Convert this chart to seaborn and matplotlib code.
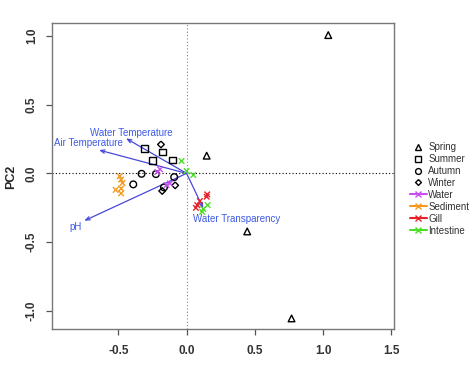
import matplotlib
matplotlib.use("Agg")
import matplotlib.pyplot as plt
from matplotlib.lines import Line2D
from matplotlib.legend_handler import HandlerLine2D
import numpy as np
import seaborn as sns
import pandas as pd

# season scores (open black symbols)
seasons = ["Spring", "Summer", "Autumn", "Winter"]
diamond = [(0, 1), (1, 0), (0, -1), (-1, 0), (0, 1)]
season_markers = ["^", "s", "o", diamond]
spring_x = [1.038, 0.147, 0.444, 0.769]
spring_y = [1.008, 0.129, -0.423, -1.057]
summer_x = [-0.311, -0.179, -0.249, -0.103]
summer_y = [0.182, 0.157, 0.095, 0.097]
autumn_x = [-0.330, -0.391, -0.225, -0.091, -0.166]
autumn_y = [-0.003, -0.080, -0.005, -0.027, -0.102]
winter_x = [-0.188, -0.084, -0.179]
winter_y = [0.211, -0.087, -0.128]

# sample type scores (x markers)
types = ["Water", "Sediment", "Gill", "Intestine"]
type_colors = ["#c84ff0", "#f59a1e", "#e8202a", "#4ddc2a"]
water_x = [-0.215, -0.195, -0.147, -0.122]
water_y = [0.010, 0.030, -0.085, -0.073]
sediment_x = [-0.49, -0.48, -0.47, -0.52, -0.48, -0.48]
sediment_y = [-0.02, -0.045, -0.07, -0.12, -0.11, -0.145]
gill_x = [0.151, 0.147, 0.097, 0.078, 0.068]
gill_y = [-0.153, -0.170, -0.202, -0.231, -0.251]
intestine_x = [-0.037, 0.000, 0.049, 0.154, 0.122, 0.114]
intestine_y = [0.090, 0.017, -0.012, -0.231, -0.260, -0.280]

# environmental vectors
env_names = ["Water Temperature", "Air Temperature", "pH", "Water Transparency"]
env_x = [-0.444, -0.642, -0.750, 0.122]
env_y = [0.255, 0.170, -0.345, -0.255]
env_label_x = [-0.405, -0.720, -0.810, 0.366]
env_label_y = [0.296, 0.219, -0.389, -0.330]

x_ticks = [-0.5, 0.0, 0.5, 1.0, 1.5]
y_ticks = [-1.0, -0.5, 0.0, 0.5, 1.0]

season_df = pd.concat([
    pd.DataFrame({"x": spring_x, "y": spring_y, "season": "Spring"}),
    pd.DataFrame({"x": summer_x, "y": summer_y, "season": "Summer"}),
    pd.DataFrame({"x": autumn_x, "y": autumn_y, "season": "Autumn"}),
    pd.DataFrame({"x": winter_x, "y": winter_y, "season": "Winter"}),
], ignore_index=True)

type_df = pd.concat([
    pd.DataFrame({"x": water_x, "y": water_y, "type": "Water"}),
    pd.DataFrame({"x": sediment_x, "y": sediment_y, "type": "Sediment"}),
    pd.DataFrame({"x": gill_x, "y": gill_y, "type": "Gill"}),
    pd.DataFrame({"x": intestine_x, "y": intestine_y, "type": "Intestine"}),
], ignore_index=True)


class LeftMarkerHandler(HandlerLine2D):
    # legend handle: line across, single marker at the left end
    def get_xdata(self, legend, xdescent, ydescent, width, height, fontsize):
        xdata, _ = super().get_xdata(legend, xdescent, ydescent, width, height, fontsize)
        return xdata, np.array([xdata[0] + 0.1 * fontsize])


sns.set_style("white")
plt.rcParams["font.family"] = ["Liberation Sans", "DejaVu Sans"]

fig = plt.figure(figsize=(4.74, 3.66), dpi=100)
ax = fig.add_axes([0.109, 0.100, 0.722, 0.836])

ax.axhline(0, color="black", lw=0.8, ls=(0, (1, 2)), zorder=1)
ax.axvline(0, color="#888888", lw=0.8, ls=(0, (1, 2)), zorder=1)

sns.scatterplot(data=season_df, x="x", y="y", style="season",
                markers=dict(zip(seasons, season_markers)), s=23,
                color="black", linewidth=1.0, legend=False, ax=ax, zorder=3)
pts = ax.collections[-1]
pts.set_facecolor("none")
pts.set_edgecolor("black")

sns.scatterplot(data=type_df, x="x", y="y", hue="type",
                palette=dict(zip(types, type_colors)), marker="x", s=16,
                linewidth=1.0, legend=False, ax=ax, zorder=4)

arrow_col = "#4848dc"
for name, ex, ey, lx, ly in zip(env_names, env_x, env_y, env_label_x, env_label_y):
    ax.annotate("", xy=(ex, ey), xytext=(0, 0),
                arrowprops=dict(arrowstyle="->,head_length=0.3,head_width=0.12",
                                color=arrow_col, lw=0.9, shrinkA=0, shrinkB=0),
                zorder=2)
    ax.text(lx, ly, name, color="#3e5ae6", fontsize=7, ha="center", va="center")

ax.set_xlim(-0.989, 1.519)
ax.set_ylim(-1.137, 1.093)
ax.set_xticks(x_ticks)
ax.set_yticks(y_ticks)
ax.set_xticklabels([f"{v:.1f}" for v in x_ticks], fontweight="bold")
ax.set_yticklabels([f"{v:.1f}" for v in y_ticks], rotation=90, va="center",
                   fontweight="bold")
ax.tick_params(axis="both", direction="out", length=4, width=0.9, color="#555555",
               labelsize=8.5, labelcolor="#333333", left=True, bottom=True)
ax.tick_params(axis="x", pad=7)
ax.tick_params(axis="y", pad=6)
for sp in ax.spines.values():
    sp.set_color("#777777")
    sp.set_linewidth(1.0)
ax.set_xlabel("")
ax.set_ylabel("PC2", fontsize=9, fontweight="bold", labelpad=6)

handles = []
for m in season_markers:
    handles.append(Line2D([], [], ls="none", marker=m, markersize=4.2,
                          mfc="none", mec="black", mew=1.0))
for c in type_colors:
    handles.append(Line2D([], [], color=c, lw=1.5, marker="x", markersize=4,
                          mec=c, mew=1.0))
labels = seasons + types
leg = ax.legend(handles, labels, loc="center left", bbox_to_anchor=(0.846, 0.484),
                bbox_transform=fig.transFigure, frameon=False, fontsize=7,
                handlelength=1.75, handletextpad=0.15, labelspacing=0.2,
                handler_map={Line2D: LeftMarkerHandler()})
for t in leg.get_texts():
    t.set_color("#333333")

fig.savefig("out.png", dpi=100)
